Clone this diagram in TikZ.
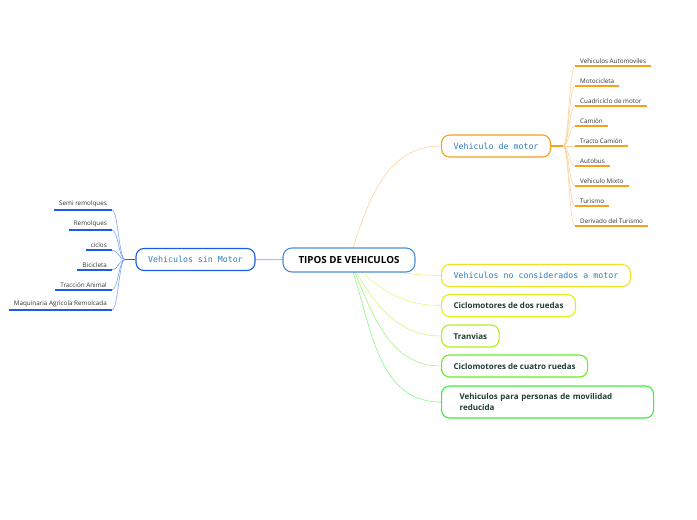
\documentclass[tikz,border=0pt]{standalone}
\usepackage{fontspec}
\setmainfont{Open Sans}
\newfontfamily\monofont{DejaVu Sans Mono}
\usepackage{tikz}
\usetikzlibrary{positioning,backgrounds}
\usepackage{xcolor}
\definecolor{rootblue}{HTML}{4A8FD6}
\definecolor{motororange}{HTML}{F5A11F}
\definecolor{motorline}{HTML}{FCD39E}
\definecolor{sinblue}{HTML}{1D5AE8}
\definecolor{sinline}{HTML}{7AA2F2}
\definecolor{monoblue}{HTML}{2F7DBF}
\definecolor{darkgreen}{HTML}{1E3D33}
\definecolor{cyellow}{HTML}{F2E21A}
\definecolor{cyellowgreen}{HTML}{D9F21A}
\definecolor{clime}{HTML}{AEF01E}
\definecolor{cgreen}{HTML}{66EE22}
\definecolor{cbrightgreen}{HTML}{3AEE3A}

\begin{document}
\begin{tikzpicture}[x=1pt, y=-1pt,
  box/.style={rectangle, draw, fill=white, line width=1.1pt, rounded corners=8pt, minimum height=22pt, inner xsep=12pt, anchor=west},
  monotext/.style={font=\monofont\fontsize{8.3}{10}\selectfont, text=monoblue},
  greentext/.style={font=\bfseries\fontsize{8}{11}\selectfont, text=darkgreen},
  leaf/.style={inner xsep=5pt, inner ysep=2.5pt, font=\fontsize{6.3}{8}\selectfont, text=black!80},
  oleaf/.style={leaf, anchor=south west},
  bleaf/.style={leaf, anchor=south east},
  uline/.style={line width=1.1pt},
  link/.style={line width=0.6pt},
  fan/.style={line width=0.6pt, out distance=6pt, in distance=6pt}
]
\useasboundingbox (0,0) rectangle (697,520);

\node[rectangle, draw=rootblue, fill=white, line width=1.1pt, rounded corners=9pt, minimum width=132pt, minimum height=24pt, font=\bfseries\fontsize{9.8}{11}\selectfont] (root) at (349,260) {TIPOS DE VEHICULOS};

\node[box, draw=motororange, monotext] (motor) at (441,146) {Vehiculo de motor};
\node[box, draw=sinblue, monotext, anchor=center, minimum width=119pt] (sinmotor) at (195.5,259.5) {Vehiculos sin Motor};
\node[box, draw=cyellow, monotext] (noconsid) at (441,275.5) {Vehiculos no considerados a motor};
\node[box, draw=cyellowgreen, greentext] (dosruedas) at (441,305.5) {Ciclomotores de dos ruedas};
\node[box, draw=clime, greentext] (tranvias) at (441,336) {Tranvias};
\node[box, draw=cgreen, greentext] (cuatroruedas) at (441,366) {Ciclomotores de cuatro ruedas};
\node[box, draw=cbrightgreen, greentext, minimum height=32pt, inner xsep=18pt, text width=176pt, align=left] (movilidad) at (441,402) {Vehiculos para personas de movilidad\\reducida};

\node[oleaf] (auto) at (575,66) {Vehiculos Automoviles};
\node[oleaf] (moto) at (575,86) {Motocicleta};
\node[oleaf] (cuadri) at (575,106) {Cuadriciclo de motor};
\node[oleaf] (camion) at (575,126) {Camión};
\node[oleaf] (tracto) at (575,146) {Tracto Camión};
\node[oleaf] (autobus) at (575,166) {Autobus};
\node[oleaf] (mixto) at (575,186) {Vehiculo Mixto};
\node[oleaf] (turismo) at (575,206) {Turismo};
\node[oleaf] (derivado) at (575,226) {Derivado del Turismo};

\node[bleaf] (semi) at (112,210) {Semi remolques};
\node[bleaf] (remolques) at (112,230) {Remolques};
\node[bleaf] (ciclos) at (112,250) {ciclos};
\node[bleaf] (bici) at (112,270) {Bicicleta};
\node[bleaf] (traccion) at (112,290) {Tracción Animal};
\node[bleaf] (maquinaria) at (112,310) {Maquinaria Agricola Remolcada};

\coordinate (mhub) at (563,146);
\coordinate (shub) at (125,259.5);

\begin{scope}[on background layer]
\draw[link, motorline] (root.center) to[out=72, in=180] (motor.west);
\draw[link, cyellow!60] (root.center) to[out=-15, in=180] (noconsid.west);
\draw[link, cyellowgreen!60] (root.center) to[out=-45, in=180] (dosruedas.west);
\draw[link, clime!60] (root.center) to[out=-60, in=180] (tranvias.west);
\draw[link, cgreen!60] (root.center) to[out=-65, in=180] (cuatroruedas.west);
\draw[link, cbrightgreen!60] (root.center) to[out=-70, in=180] (movilidad.west);
\draw[link, sinline] (root.center) -- (sinmotor.center);
\end{scope}

\draw[uline, motororange] (motor.east) -- (mhub);
\draw[fan, motorline] (mhub) to[out=0, in=180] (auto.south west);
\draw[fan, motorline] (mhub) to[out=0, in=180] (moto.south west);
\draw[fan, motorline] (mhub) to[out=0, in=180] (cuadri.south west);
\draw[fan, motorline] (mhub) to[out=0, in=180] (camion.south west);
\draw[fan, motorline] (mhub) to[out=0, in=180] (tracto.south west);
\draw[fan, motorline] (mhub) to[out=0, in=180] (autobus.south west);
\draw[fan, motorline] (mhub) to[out=0, in=180] (mixto.south west);
\draw[fan, motorline] (mhub) to[out=0, in=180] (turismo.south west);
\draw[fan, motorline] (mhub) to[out=0, in=180] (derivado.south west);

\draw[uline, sinblue] (sinmotor.west) -- (shub);
\draw[fan, sinline] (shub) to[out=180, in=0] (semi.south east);
\draw[fan, sinline] (shub) to[out=180, in=0] (remolques.south east);
\draw[fan, sinline] (shub) to[out=180, in=0] (ciclos.south east);
\draw[fan, sinline] (shub) to[out=180, in=0] (bici.south east);
\draw[fan, sinline] (shub) to[out=180, in=0] (traccion.south east);
\draw[fan, sinline] (shub) to[out=180, in=0] (maquinaria.south east);

\draw[uline, motororange] (auto.south west) -- (auto.south east);
\draw[uline, motororange] (moto.south west) -- (moto.south east);
\draw[uline, motororange] (cuadri.south west) -- (cuadri.south east);
\draw[uline, motororange] (camion.south west) -- (camion.south east);
\draw[uline, motororange] (tracto.south west) -- (tracto.south east);
\draw[uline, motororange] (autobus.south west) -- (autobus.south east);
\draw[uline, motororange] (mixto.south west) -- (mixto.south east);
\draw[uline, motororange] (turismo.south west) -- (turismo.south east);
\draw[uline, motororange] (derivado.south west) -- (derivado.south east);

\draw[uline, sinblue] (semi.south west) -- (semi.south east);
\draw[uline, sinblue] (remolques.south west) -- (remolques.south east);
\draw[uline, sinblue] (ciclos.south west) -- (ciclos.south east);
\draw[uline, sinblue] (bici.south west) -- (bici.south east);
\draw[uline, sinblue] (traccion.south west) -- (traccion.south east);
\draw[uline, sinblue] (maquinaria.south west) -- (maquinaria.south east);
\end{tikzpicture}
\end{document}
